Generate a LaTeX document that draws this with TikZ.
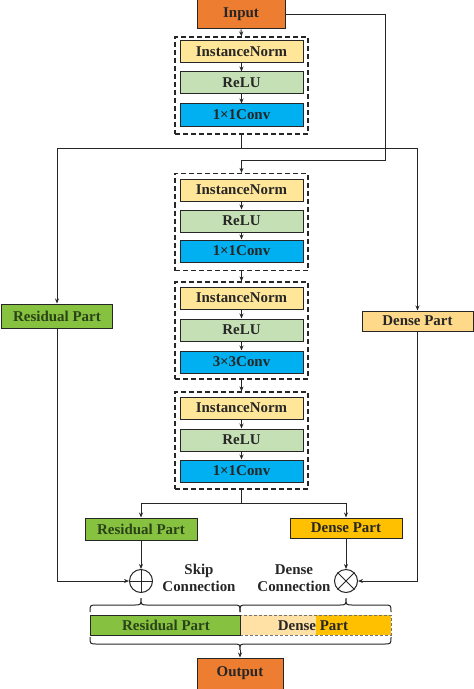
\documentclass[tikz,border=0pt]{standalone}
\usepackage{fontspec}
\setmainfont{Liberation Serif}
\usetikzlibrary{arrows.meta}
\definecolor{orng}{HTML}{ED7D31}
\definecolor{ylw}{HTML}{FFE699}
\definecolor{lgrn}{HTML}{C5E0B4}
\definecolor{blu}{HTML}{00B0F0}
\definecolor{grn}{HTML}{86C240}
\definecolor{lorng}{HTML}{FFD98A}
\definecolor{gold}{HTML}{FFC000}
\definecolor{pale}{HTML}{FFE1A6}
\definecolor{txt}{HTML}{262626}
\definecolor{gtxt}{HTML}{2A4218}
\tikzset{
  box/.style={draw=black!85, line width=1bp, minimum width=123bp, minimum height=22bp, inner sep=0pt, text=txt, font=\fontsize{15}{17}\selectfont\bfseries},
  dashbox/.style={draw=black!85, line width=1.2bp, dash pattern=on 5bp off 3bp, minimum width=133bp, minimum height=97bp, inner sep=0pt},
  lbl/.style={inner sep=0pt, text=txt, font=\fontsize{15}{17}\selectfont\bfseries, align=center},
  arr/.style={line width=1bp, draw=black!85, -{Stealth[length=5bp,width=4bp]}},
  ln/.style={line width=1bp, draw=black!85},
  brc/.style={line width=1bp, draw=black!85}
}
\begin{document}
\begin{tikzpicture}[x=1bp,y=-1bp]
\useasboundingbox (0,0) rectangle (474,689);
% Input
\node[box, fill=orng, minimum width=88bp, minimum height=29bp] (in) at (241,14.5) {Input};
% block 1
\node[dashbox] (b1) at (241.5,85.5) {};
\node[box, fill=ylw] (n1) at (241.5,52) {InstanceNorm};
\node[box, fill=lgrn] (r1) at (241.5,83) {ReLU};
\node[box, fill=blu] (c1) at (241.5,115) {1×1Conv};
% block 2
\node[dashbox] (b2) at (241.5,222) {};
\node[box, fill=ylw] (n2) at (241.5,190) {InstanceNorm};
\node[box, fill=lgrn] (r2) at (241.5,221) {ReLU};
\node[box, fill=blu] (c2) at (241.5,251) {1×1Conv};
% block 3
\node[dashbox] (b3) at (241.5,330.5) {};
\node[box, fill=ylw] (n3) at (241.5,298) {InstanceNorm};
\node[box, fill=lgrn] (r3) at (241.5,330) {ReLU};
\node[box, fill=blu] (c3) at (241.5,362) {3×3Conv};
% block 4
\node[dashbox] (b4) at (241.5,440.5) {};
\node[box, fill=ylw] (n4) at (241.5,408) {InstanceNorm};
\node[box, fill=lgrn] (r4) at (241.5,440) {ReLU};
\node[box, fill=blu] (c4) at (241.5,471) {1×1Conv};
% side parts
\node[box, fill=grn, text=gtxt, minimum width=111bp, minimum height=24bp] (resL) at (57,316) {Residual Part};
\node[box, fill=lorng, minimum width=111bp, minimum height=20bp] (denR) at (417.5,321) {Dense Part};
% mid parts
\node[box, fill=grn, text=gtxt, minimum width=112bp, minimum height=22bp] (resM) at (141,529) {Residual Part};
\node[box, fill=gold, minimum width=112bp, minimum height=20bp] (denM) at (346,528) {Dense Part};
% operators
\node[draw=black!85, line width=1bp, circle, minimum size=23bp, inner sep=0pt] (op) at (141,581) {};
\draw[ln] (op.north) -- (op.south) (op.west) -- (op.east);
\node[draw=black!85, line width=1bp, circle, minimum size=23bp, inner sep=0pt] (ot) at (346,581) {};
\draw[ln] (ot.north west) -- (ot.south east) (ot.north east) -- (ot.south west);
\node[lbl] (skip) at (199,578) {Skip\\Connection};
\node[lbl] (dcon) at (294,578) {Dense\\Connection};
% concatenated bar
\fill[pale] (240,615) rectangle (316,635);
\fill[gold] (316,615) rectangle (391,635);
\draw[draw=black!55, line width=1bp, dash pattern=on 3bp off 2bp] (240,615) rectangle (391,635);
\draw[fill=grn, draw=black!85, line width=1bp] (90,615) rectangle (240,635);
\node[lbl, text=gtxt] (resB) at (166,625.5) {Residual Part};
\node[lbl] (denB) at (313,625.5) {Dense Part};
% braces
\draw[brc] (90,612) .. controls (90,605) .. (97,605) -- (134,605) .. controls (141,605) .. (141,598)
  .. controls (141,605) .. (148,605) -- (233,605) .. controls (240,605) .. (240,612);
\draw[brc] (240,612) .. controls (240,605) .. (247,605) -- (339,605) .. controls (346,605) .. (346,598)
  .. controls (346,605) .. (353,605) -- (384,605) .. controls (391,605) .. (391,612);
\draw[brc] (90,637) .. controls (90,644) .. (97,644) -- (233,644) .. controls (240,644) .. (240,650)
  .. controls (240,644) .. (247,644) -- (384,644) .. controls (391,644) .. (391,637);
\coordinate (btip) at (240,650);
% output
\node[box, fill=orng, minimum width=86bp, minimum height=31bp] (out) at (240,673.5) {Output};
% connectors
\draw[arr] (in.south) -- (b1.north);
\draw[arr] (n1) -- (r1); \draw[arr] (r1) -- (c1);
\draw[arr] (n2) -- (r2); \draw[arr] (r2) -- (c2);
\draw[arr] (n3) -- (r3); \draw[arr] (r3) -- (c3);
\draw[arr] (n4) -- (r4); \draw[arr] (r4) -- (c4);
\draw[arr] (b2.south) -- (b3.north);
\draw[arr] (b3.south) -- (b4.north);
\draw[arr] (in.east) -- (385,14.5) -- (385,160) -- (241.5,160) -- (b2.north);
\draw[ln] (b1.south) -- (241.5,148);
\draw[arr] (241.5,148) -| (resL.north);
\draw[arr] (241.5,148) -| (denR.north);
\draw[ln] (b4.south) -- (241.5,503);
\draw[arr] (241.5,503) -| (resM.north);
\draw[arr] (241.5,503) -| (denM.north);
\draw[arr] (resM.south) -- (op.north);
\draw[arr] (denM.south) -- (ot.north);
\draw[arr] (resL.south) |- (op.west);
\draw[arr] (denR.south) |- (ot.east);
\draw[arr] (btip) -- (out.north);
\end{tikzpicture}
\end{document}
